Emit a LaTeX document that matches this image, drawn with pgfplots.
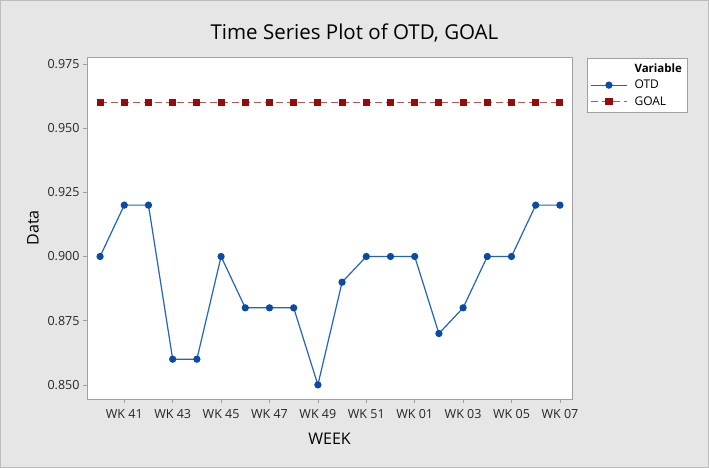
\documentclass[border=0pt]{standalone}
\usepackage{pgfplots}
\pgfplotsset{compat=1.18}
\usepackage{fontspec}
\setmainfont{Open Sans}
\definecolor{bg}{RGB}{230,230,230}
\definecolor{otd}{RGB}{35,100,185}
\definecolor{otdm}{RGB}{10,75,165}
\definecolor{goal}{RGB}{190,85,85}
\definecolor{goalm}{RGB}{150,10,10}
\definecolor{frame}{RGB}{160,160,160}
\begin{document}
\begin{tikzpicture}[x=1bp,y=1bp]
\fill[bg] (0,0) rectangle (709,468);
\draw[frame!70, line width=0.6bp] (0.3,0.3) rectangle (708.7,467.7);
\node[font=\fontsize{20.5bp}{23bp}\selectfont] at (354.5,435) {Time Series Plot of OTD, GOAL};
\begin{axis}[
  at={(87bp,69bp)}, anchor=south west,
  scale only axis, width=485bp, height=342bp,
  xmin=0.46, xmax=20.5, ymin=0.8445, ymax=0.9777,
  axis background/.style={fill=white},
  axis line style={frame, line width=0.8bp},
  xtick pos=bottom, ytick pos=left,
  xtick={2,4,...,20},
  xticklabels={WK 41,WK 43,WK 45,WK 47,WK 49,WK 51,WK 01,WK 03,WK 05,WK 07},
  ytick={0.850,0.875,0.900,0.925,0.950,0.975},
  yticklabel style={/pgf/number format/.cd,fixed,fixed zerofill,precision=3},
  /pgf/number format/assume math mode=true,
  tick align=outside, tick style={frame, line width=0.6bp}, major tick length=4bp,
  ticklabel style={font=\fontsize{12.5bp}{14bp}\selectfont, text=black!85},
  xticklabel style={yshift=-3bp},
  xlabel={WEEK}, ylabel={Data},
  label style={font=\fontsize{16bp}{18bp}\selectfont},
  xlabel style={yshift=-8bp},
  ylabel style={yshift=2bp},
  clip=false,
  legend style={at={(1.031,0.997)}, anchor=north west, draw=frame, line width=0.6bp,
    font=\fontsize{12bp}{14bp}\selectfont, cells={anchor=west},
    inner xsep=3bp, inner ysep=3bp, row sep=2.5bp},
  legend image code/.code={
    \draw[mark repeat=2,mark phase=2,#1] plot coordinates {(0bp,0bp) (18bp,0bp) (36bp,0bp)};
    \path (41bp,0bp);},
]
\addlegendimage{legend image code/.code={\path (0bp,0bp) (41bp,0bp);}}
\addlegendentry{\fontsize{11.5bp}{13bp}\selectfont\textbf{Variable}}
\addplot[otd, line width=1.2bp, mark=*, mark size=3bp, mark options={otdm, fill=otdm}] coordinates {
(1,0.90) (2,0.92) (3,0.92) (4,0.86) (5,0.86) (6,0.90) (7,0.88) (8,0.88) (9,0.88) (10,0.85)
(11,0.89) (12,0.90) (13,0.90) (14,0.90) (15,0.87) (16,0.88) (17,0.90) (18,0.90) (19,0.92) (20,0.92)};
\addlegendentry{OTD}
\addplot[goal, line width=1.1bp, dash pattern=on 7bp off 4bp, mark=square*, mark size=3bp, mark options={solid, goalm, fill=goalm}] coordinates {
(1,0.96) (2,0.96) (3,0.96) (4,0.96) (5,0.96) (6,0.96) (7,0.96) (8,0.96) (9,0.96) (10,0.96)
(11,0.96) (12,0.96) (13,0.96) (14,0.96) (15,0.96) (16,0.96) (17,0.96) (18,0.96) (19,0.96) (20,0.96)};
\addlegendentry{GOAL}
\end{axis}
\end{tikzpicture}
\end{document}
